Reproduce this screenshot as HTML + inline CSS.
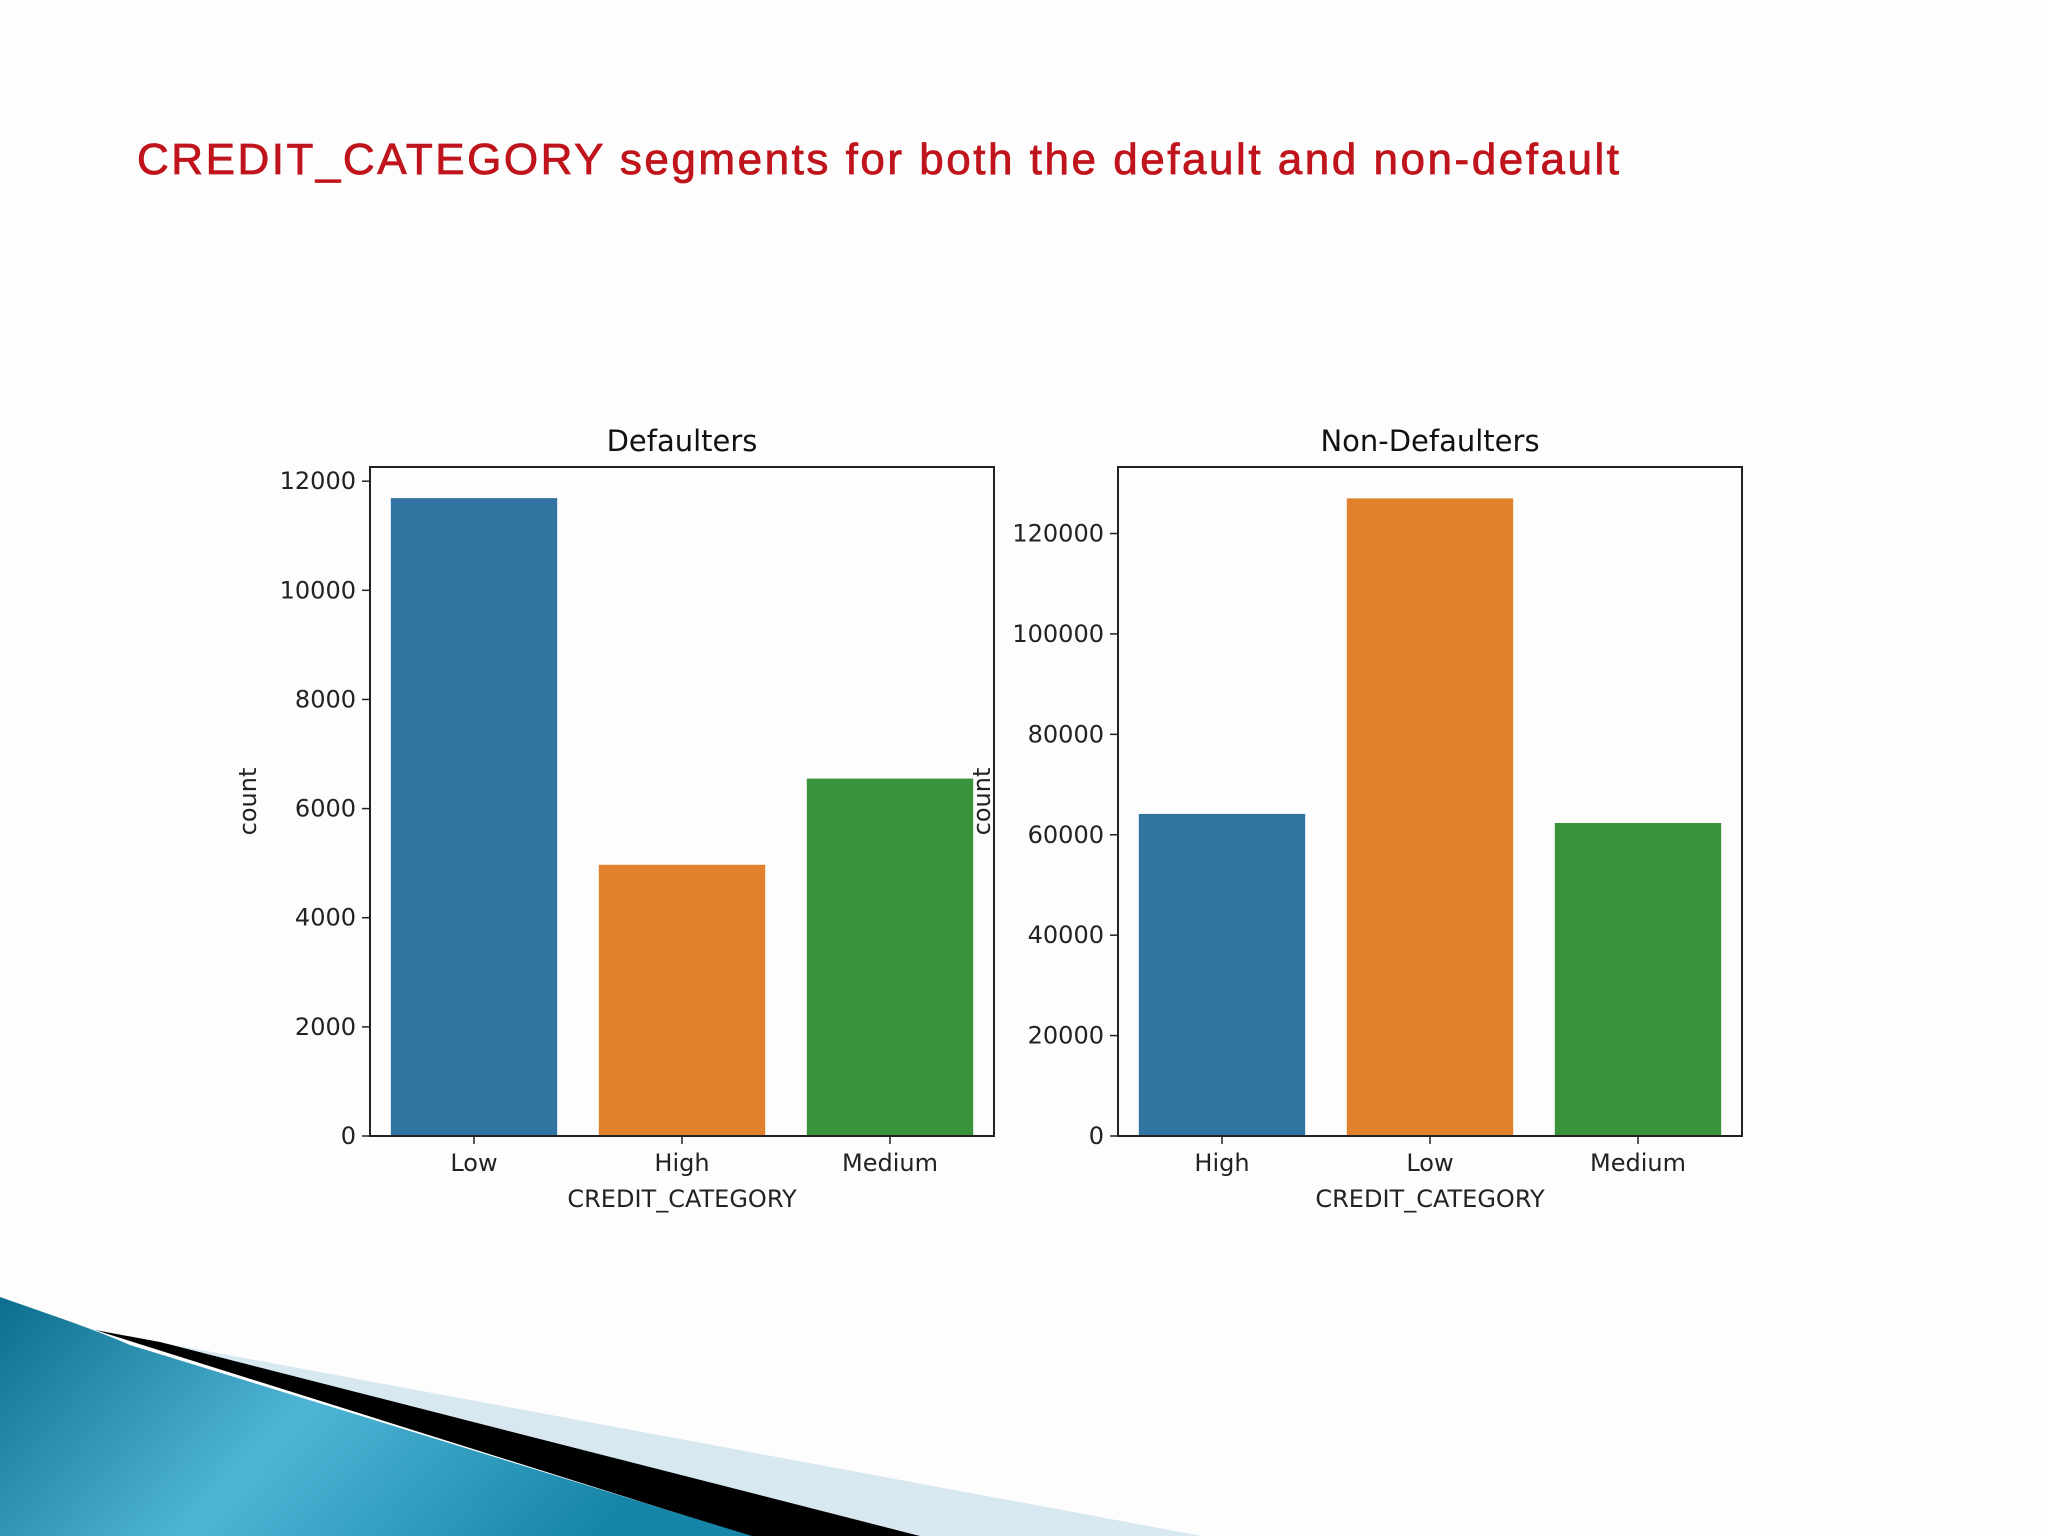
<!DOCTYPE html>
<html><head><meta charset="utf-8"><style>
html,body{margin:0;padding:0;background:#fdfdfd;}
svg{display:block;font-family:"DejaVu Sans","Liberation Sans",sans-serif;}
</style></head><body>
<svg id="s" width="2048" height="1536" viewBox="0 0 2048 1536" xmlns="http://www.w3.org/2000/svg">
<defs>
<linearGradient id="bg" x1="0" y1="0" x2="1" y2="0.3">
<stop offset="0" stop-color="#0c6e8e"/><stop offset="0.5" stop-color="#4fb5d6"/><stop offset="1" stop-color="#1585a8"/>
</linearGradient>
</defs>
<rect width="2048" height="1536" fill="#fdfdfd"/>
<text x="137" y="174" font-family="'Liberation Sans',sans-serif" font-size="44" fill="#c0141c" stroke="#c0141c" stroke-width="0.8" textLength="1482">CREDIT_CATEGORY segments for both the default and non-default</text>
<polygon points="110,1333 1202,1536 780,1536" fill="#d8e8f0"/>
<polygon points="95,1330 160,1342 920,1536 750,1536" fill="#000"/>
<path d="M0,1297 L60,1318 Q100,1332 130,1345 L752,1536 L0,1536 Z" fill="url(#bg)"/>
<g id="charts"></g>
</svg>
<script>
const catsA=["Low","High","Medium"];
const valsA=[11690,4970,6550];
const ticksA=[0,2000,4000,6000,8000,10000,12000];
const catsB=["High","Low","Medium"];
const valsB=[64150,127000,62340];
const ticksB=[0,20000,40000,60000,80000,100000,120000];
const colors=["#3274a1","#e1812c","#3a923a"];
const NS="http://www.w3.org/2000/svg";
const g=document.getElementById('charts');
function el(t,a,p){const e=document.createElementNS(NS,t);for(const k in a)e.setAttribute(k,a[k]);(p||g).appendChild(e);return e;}
function chart(x0,x1,y0,y1,max,cats,vals,ticks,title,name){
  const grp=el('g',{});
  
  
  const ys=v=>y0-(v/max)*(y0-y1);
  const bw=(x1-x0)/cats.length;
  cats.forEach((c,i)=>{
    const r=el('rect',{x:x0+bw*i+bw*0.1,y:ys(vals[i]),width:bw*0.8,height:y0-ys(vals[i]),fill:colors[i]},grp);
    
    
    const cx=x0+bw*(i+0.5);
    el('line',{x1:cx,x2:cx,y1:y0,y2:y0+8,stroke:'#222','stroke-width':1.5},grp);
    const t=el('text',{x:cx,y:y0+35,'font-size':24,'text-anchor':'middle',fill:'#222'},grp);
    t.textContent=c;
    
    
  });
  ticks.forEach(v=>{
    const y=ys(v);
    el('line',{x1:x0-8,x2:x0,y1:y,y2:y,stroke:'#222','stroke-width':1.5},grp);
    const t=el('text',{x:x0-14,y:y+8,'font-size':24,'text-anchor':'end',fill:'#222'},grp);
    t.textContent=v;
    
    
  });
  const f=el('rect',{x:x0,y:y1,width:x1-x0,height:y0-y1,fill:'none',stroke:'#222','stroke-width':2},grp);
  
  
  const tt=el('text',{x:(x0+x1)/2,y:y1-16,'font-size':29,'text-anchor':'middle',fill:'#111'},grp);
  tt.textContent=title;
  
  
  const xl=el('text',{x:(x0+x1)/2,y:y0+71,'font-size':24,'text-anchor':'middle',fill:'#222'},grp);
  xl.textContent='CREDIT_CATEGORY';
  
  
  const yl=el('text',{x:0,y:0,'font-size':24,'text-anchor':'middle',fill:'#222',transform:`translate(${x0-114},${(y0+y1)/2}) rotate(-90)`},grp);
  if(name==='chart-non-defaulters') yl.setAttribute('transform',`translate(${x0-128},${(y0+y1)/2}) rotate(-90)`);
  yl.textContent='count';
  
  
}
chart(370,994,1136,467,12260,catsA,valsA,ticksA,'Defaulters','chart-defaulters');
chart(1118,1742,1136,467,133250,catsB,valsB,ticksB,'Non-Defaulters','chart-non-defaulters');
</script>
</body></html>
